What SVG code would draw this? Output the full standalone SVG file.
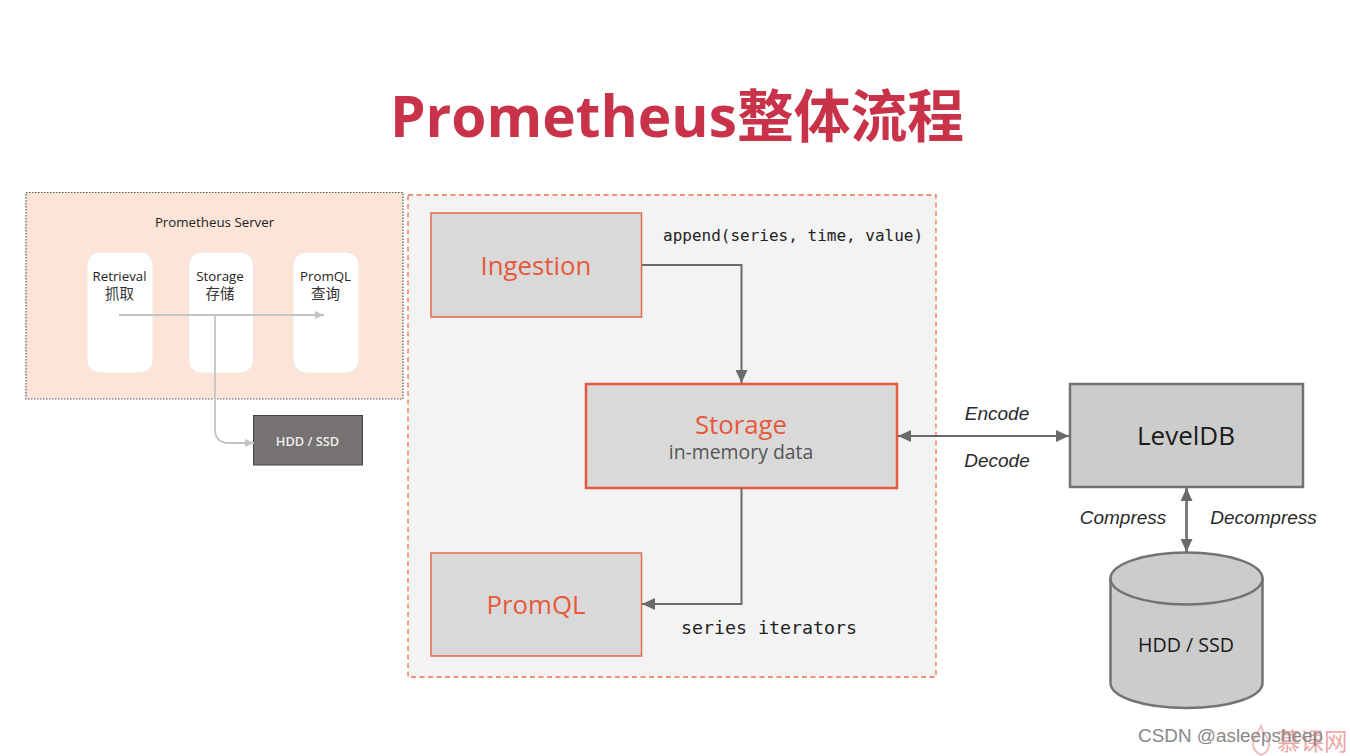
<svg xmlns="http://www.w3.org/2000/svg" width="1350" height="756" viewBox="0 0 1350 756">
<style>
.ub{font-family:"Open Sans","Noto Sans","Noto Sans CJK SC",sans-serif}
.mono{font-family:"DejaVu Sans Mono","Liberation Mono",monospace;fill:#222}
.it{font-family:"Liberation Sans",Arial,sans-serif;font-style:italic;font-size:19px;fill:#2a2a2a}
.box{fill:#d9d9d9;stroke:#e8694a;stroke-width:1.500}
.or{fill:#e8583a;font-size:25.800px;text-anchor:middle}
.wh{fill:#fff;stroke:#f0e6df;stroke-width:1}
.sm{fill:#222;font-size:13.300px;text-anchor:middle;font-family:"Open Sans","Noto Sans CJK SC",sans-serif}
.cn{fill:#333;font-size:14.500px;text-anchor:middle;font-family:"Noto Sans CJK SC",sans-serif}
.dk{fill:none;stroke:#6a6a6a;stroke-width:2}
.dk2{fill:none;stroke:#757575;stroke-width:2.800}
.lt{fill:none;stroke:#c4c4c4;stroke-width:1.800}
.gray{fill:#cccccc;stroke:#737373;stroke-width:2.500}
</style>
<defs>
<marker id="a" markerUnits="userSpaceOnUse" markerWidth="14" markerHeight="12" refX="13" refY="6" orient="auto-start-reverse"><path d="M0 0L13 6L0 12Z" fill="#6a6a6a"/></marker>
<marker id="b" markerUnits="userSpaceOnUse" markerWidth="9" markerHeight="8" refX="9" refY="4" orient="auto"><path d="M0 0L9 4L0 8Z" fill="#c4c4c4"/></marker>
</defs>
<rect width="1350" height="756" fill="#fff"/>
<text id="title" x="677" y="137" text-anchor="middle" font-family="'Open Sans','Noto Sans CJK SC',sans-serif" font-weight="700" font-size="56.800" fill="#c8334a">Prometheus整体流程</text>

<g id="server">
<rect x="26" y="192.500" width="377" height="206.500" fill="#fce4d8" stroke="#555" stroke-width="1.200" stroke-dasharray="1.500 1.500"/>
<text class="sm" x="214.500" y="227">Prometheus Server</text>
</g>
<g id="retrieval"><rect class="wh" x="87" y="252" width="66" height="121" rx="13"/><text class="sm" x="119.500" y="281">Retrieval</text><text class="cn" x="119.500" y="299">抓取</text></g>
<g id="storage-small"><rect class="wh" x="188.500" y="252" width="65" height="121" rx="13"/><text class="sm" x="220" y="281">Storage</text><text class="cn" x="220" y="299">存储</text></g>
<g id="promql-small"><rect class="wh" x="293" y="252" width="66" height="121" rx="13"/><text class="sm" x="325.500" y="281">PromQL</text><text class="cn" x="325.500" y="299">查询</text></g>
<g id="hdd-small"><rect x="253.500" y="415.500" width="109" height="49.500" fill="#767271" stroke="#444" stroke-width="1"/><text x="307.500" y="446" text-anchor="middle" font-size="12.800" font-weight="600" fill="#eee" font-family="'Open Sans',sans-serif">HDD / SSD</text></g>

<g id="panel"><rect x="408" y="195" width="528" height="482" fill="#f3f3f3" stroke="#e8735a" stroke-width="1.300" stroke-dasharray="5 3.500"/></g>
<g id="ingestion"><rect class="box" x="431" y="213" width="210.500" height="104"/><text class="ub or" x="536" y="275">Ingestion</text></g>
<g id="storage"><rect x="586" y="384" width="311" height="104" fill="#d9d9d9" stroke="#e8583a" stroke-width="2.500"/><text class="ub or" x="741" y="433.500">Storage</text><text class="ub" x="741" y="459" text-anchor="middle" font-size="19.400" fill="#555">in-memory data</text></g>
<g id="promql"><rect class="box" x="431" y="553" width="210.500" height="103"/><text class="ub or" x="536" y="614">PromQL</text></g>
<g id="leveldb"><rect class="gray" x="1070" y="384" width="233" height="103"/><text x="1186" y="445" text-anchor="middle" font-size="26" fill="#1a1a1a" font-family="'Open Sans',sans-serif">LevelDB</text></g>
<g id="disk">
<path class="gray" d="M1110.500 578V683C1110.500 697 1144 708 1186.500 708S1262.500 697 1262.500 683V578"/>
<ellipse class="gray" cx="1186.500" cy="578.500" rx="76" ry="26"/>
<text x="1186" y="652" text-anchor="middle" font-size="19.600" fill="#1a1a1a" font-family="'Open Sans',sans-serif">HDD / SSD</text>
</g>

<g id="connectors">
<path class="lt" d="M119 315H324" marker-end="url(#b)"/>
<path class="lt" d="M215 315V429Q215 443 229 443H254" marker-end="url(#b)"/>
<path class="dk" d="M642 265H741.500V383" marker-end="url(#a)"/>
<path class="dk" d="M741.500 488V604H642" marker-end="url(#a)"/>
<path class="dk" d="M898 436H1069" marker-start="url(#a)" marker-end="url(#a)"/>
<path class="dk2" d="M1186.500 488V552" marker-start="url(#a)" marker-end="url(#a)"/>
</g>

<g id="labels">
<text class="mono" x="663" y="241" font-size="16">append(series, time, value)</text>
<text class="mono" x="681" y="634" font-size="18.300">series iterators</text>
<text class="it" x="997" y="420" text-anchor="middle">Encode</text>
<text class="it" x="997" y="467" text-anchor="middle">Decode</text>
<text class="it" x="1123" y="524" text-anchor="middle">Compress</text>
<text class="it" x="1263.500" y="524" text-anchor="middle">Decompress</text>
</g>
<g id="watermark-logo" opacity="0.55">
<path d="M1261 726C1263 735 1270 738 1269 746C1268 751 1264 754 1261 755C1257 753 1253 750 1253 744C1253 738 1258 734 1261 726Z" fill="none" stroke="#e58a8a" stroke-width="2"/>
<text x="1277" y="750" font-size="23.500" fill="#e06060" font-family="'Noto Sans CJK SC',sans-serif">慕课网</text>
</g>
<text id="wm" x="1138" y="742" font-size="18.900" fill="#888" font-family="'Liberation Sans',sans-serif">CSDN @asleepsheep</text>
</svg>
